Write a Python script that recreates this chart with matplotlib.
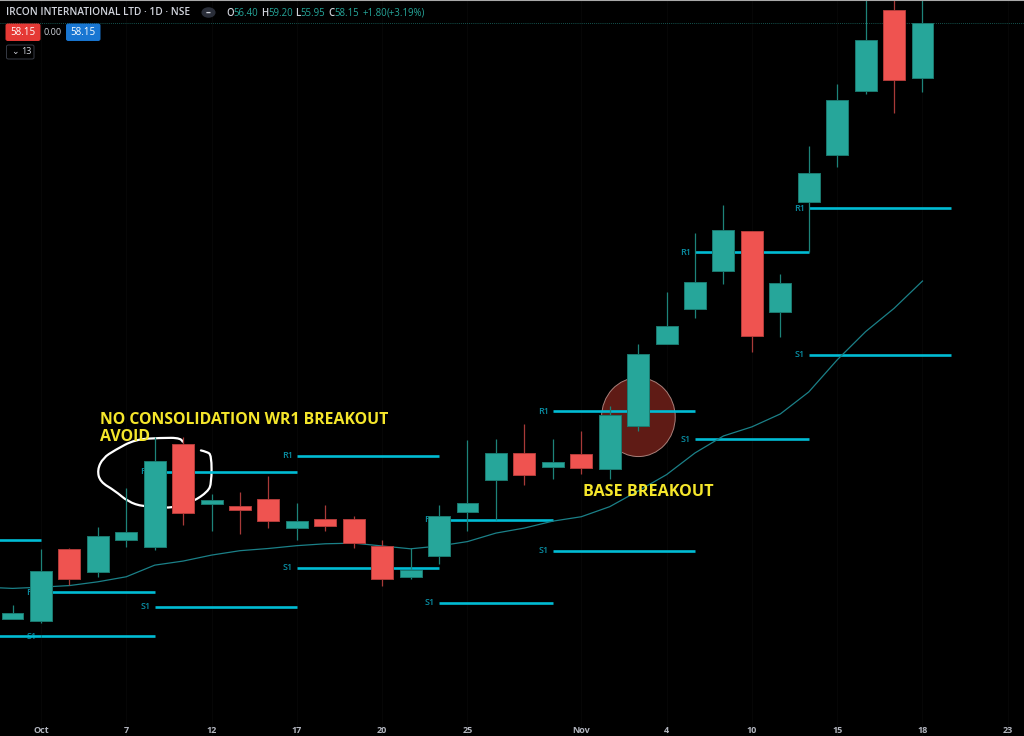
import matplotlib

matplotlib.use("Agg")
import matplotlib.pyplot as plt
from matplotlib.patches import Ellipse, FancyBboxPatch, Circle, PathPatch
from matplotlib.path import Path
import numpy as np

## Chart values ##
opens = [39.19, 39.14, 41.41, 40.70, 41.70, 41.50, 44.77, 42.86, 42.78, 43.02, 42.10,
         42.37, 42.37, 41.52, 40.53, 41.20, 42.61, 43.61, 44.48, 44.02, 44.44, 43.97,
         45.33, 47.94, 49.05, 50.26, 51.54, 48.96, 52.47, 53.97, 56.00, 58.57, 56.40]
highs = [39.64, 41.42, 41.47, 42.12, 43.36, 44.98, 44.98, 43.17, 43.24, 43.74, 42.88,
         42.82, 42.47, 41.71, 41.45, 42.82, 44.89, 44.93, 45.40, 44.93, 45.19, 45.97,
         47.95, 49.61, 51.48, 52.37, 51.54, 50.17, 54.25, 56.22, 59.30, 59.40, 59.20]
lows = [39.19, 39.08, 40.28, 40.54, 41.50, 41.40, 42.20, 42.01, 41.90, 42.10, 41.70,
        42.01, 41.45, 40.25, 40.48, 40.95, 42.01, 42.35, 43.46, 43.66, 43.81, 43.66,
        45.17, 47.94, 48.76, 49.87, 47.70, 48.18, 50.86, 53.59, 55.91, 55.29, 55.95]
closes = [39.40, 40.71, 40.46, 41.83, 41.96, 44.23, 42.56, 42.98, 42.66, 42.31, 42.32,
          42.16, 41.60, 40.46, 40.76, 42.46, 42.88, 44.48, 43.77, 44.19, 44.01, 45.69,
          47.62, 48.52, 49.93, 51.58, 48.19, 49.88, 53.40, 55.71, 57.62, 56.36, 58.15]
ma_values = [40.21, 40.17, 40.21, 40.26, 40.38, 40.54, 40.91, 41.04, 41.23, 41.37, 41.44,
             41.53, 41.59, 41.61, 41.52, 41.43, 41.52, 41.66, 41.93, 42.09, 42.31, 42.45,
             42.77, 43.27, 43.79, 44.48, 45.02, 45.31, 45.72, 46.42, 47.44, 48.34, 49.08,
             49.95]

# weekly pivot periods, in bar numbers
pivot_start = [-2, 1, 5, 10, 15, 19, 24, 28]
pivot_end = [1, 5, 10, 15, 19, 24, 28, 33]
pivot_r1 = [41.72, 40.04, 43.88, 44.39, 42.36, 45.81, 50.86, 52.27]
pivot_s1 = [38.64, 38.64, 39.59, 40.83, 39.72, 41.37, 44.92, 47.60]

tick_bars = [1, 4, 7, 10, 13, 16, 20, 23, 26, 29, 32, 35]
tick_labels = ["Oct", "7", "12", "17", "20", "25", "Nov", "4", "10", "15", "18", "23"]

# hand drawn loop around the WR1 candles
scribble_x = [5.98, 5.95, 5.2, 4.31, 3.60, 3.18, 2.98, 3.08, 3.60, 4.06, 4.59, 5.64, 6.35,
              6.87, 7.00, 7.00, 6.83, 6.42]
scribble_y = [44.84, 44.96, 44.96, 44.91, 44.57, 44.32, 43.94, 43.56, 43.28, 42.93, 42.77,
              42.72, 42.93, 43.25, 43.52, 44.41, 44.52, 44.60]

GREEN = "#26a69a"
RED = "#ef5350"
CYAN = "#00bcd4"
TEXT = "#d1d4dc"
YELLOW = "#f5e62b"

plt.rcParams["font.family"] = ["Open Sans", "DejaVu Sans"]

fig = plt.figure(figsize=(10.24, 7.36), dpi=100, facecolor="black")
ax = fig.add_axes([0, 0, 1, 1], facecolor="black")
ax.set_xlim(-0.44, 35.57)
ax.set_ylim(35.474, 58.891)
for spine in ax.spines.values():
    spine.set_visible(False)

ax.set_xticks(tick_bars, tick_labels)
ax.set_yticks([])
ax.tick_params(axis="x", length=0, pad=-7, labelsize=6.5, labelcolor="#b2b5be")
for label in ax.get_xticklabels():
    label.set_fontweight("bold")
ax.set_axisbelow(True)
ax.grid(True, axis="x", color="#070707", lw=0.7)

opens = np.array(opens)
closes = np.array(closes)
bars = np.arange(len(opens))
up = closes >= opens

## Drawings below the price ##
ax.add_patch(Ellipse((22.01, 45.62), 2.59, 2.51, facecolor="#5f1b15", edgecolor="#a9807a",
                     lw=0.7, zorder=1))

# smooth the loop, points act as quadratic control points
ctrl = np.column_stack([scribble_x, scribble_y])
verts = [ctrl[0]]
codes = [Path.MOVETO]
for a, b in zip(ctrl[1:-1], ctrl[2:]):
    verts += [a, (a + b) / 2]
    codes += [Path.CURVE3, Path.CURVE3]
ax.add_patch(PathPatch(Path(verts, codes), facecolor="none", edgecolor="white", lw=1.6,
                       capstyle="round", zorder=2))

## Pivots ##
for start, end, r1, s1 in zip(pivot_start, pivot_end, pivot_r1, pivot_s1):
    for level, name in ((r1, "R1"), (s1, "S1")):
        ax.plot([start, end], [level, level], color=CYAN, lw=1.9, solid_capstyle="butt", zorder=3)
        ax.annotate(name, (start, level), xytext=(-3, 0), textcoords="offset points",
                    ha="right", va="center", fontsize=6.5, color="#0a8ea3", zorder=2.5,
                    fontweight="semibold", annotation_clip=True)

ax.plot(np.arange(-1, len(ma_values) - 1), ma_values, color="#1b8088", lw=0.9, zorder=4)

## Candles ##
ax.vlines(bars[up], np.array(lows)[up], np.array(highs)[up], color="#1d8379", lw=0.9, zorder=5)
ax.vlines(bars[~up], np.array(lows)[~up], np.array(highs)[~up], color="#a83a38", lw=0.9, zorder=5)
ax.bar(bars[up], (closes - opens)[up], bottom=opens[up], width=0.77, color=GREEN,
       edgecolor="#1b7a70", lw=0.7, zorder=6)
ax.bar(bars[~up], (closes - opens)[~up], bottom=opens[~up], width=0.77, color=RED,
       edgecolor="#b23c3a", lw=0.7, zorder=6)

## Notes ##
ax.text(3.08, 45.53, "NO CONSOLIDATION WR1 BREAKOUT", color=YELLOW, fontsize=11.4,
        fontweight="bold", va="center", zorder=7)
ax.text(3.08, 44.98, "AVOID", color=YELLOW, fontsize=11.4, fontweight="bold",
        va="center", zorder=7)
ax.text(20.06, 43.25, "BASE BREAKOUT", color=YELLOW, fontsize=11.6, fontweight="bold",
        va="center", zorder=7)


## Header ##
def px(x, y):
    return x / 1024, 1 - y / 736


def header_text(x, y, text, color=TEXT, size=7.5, weight="normal", ha="left"):
    fig.text(*px(x, y), text, color=color, fontsize=size, fontweight=weight, ha=ha, va="center",
             zorder=10)


def badge(x0, y0, x1, y1, face, edge=None):
    fig.add_artist(FancyBboxPatch(px(x0, y1), (x1 - x0) / 1024, (y1 - y0) / 736,
                                  boxstyle="round,pad=0,rounding_size=0.002",
                                  transform=fig.transFigure, facecolor=face,
                                  edgecolor=edge or face, lw=0.7, zorder=9))


fig.add_artist(plt.Line2D([0, 1], [0.9995, 0.9995], color="#a9a9a9", lw=1.5, zorder=9))
ax.axhline(58.15, color="#1c6f68", lw=0.6, ls=(0, (1, 1.5)), zorder=4)

header_text(6, 12.5, "IRCON INTERNATIONAL LTD · 1D · NSE", size=7.3, weight="semibold")
fig.add_artist(Circle(px(208.5, 12.5), 0.0062, transform=fig.transFigure, color="#2a2e39", zorder=9))
header_text(208.5, 12.5, "–", color=TEXT, size=7, weight="bold", ha="center")

ohlc_parts = [(226, "O", TEXT), (233.5, "56.40", GREEN), (261, "H", TEXT), (268, "59.20", GREEN),
              (295, "L", TEXT), (300.5, "55.95", GREEN), (328, "C", TEXT), (334.5, "58.15", GREEN),
              (363, "+1.80", GREEN), (387, "(+3.19%)", GREEN)]
for x, part, color in ohlc_parts:
    header_text(x, 13, part, color=color, size=6.9, weight="semibold" if color == TEXT else "normal")

badge(6, 24, 40, 40.5, "#e53935")
header_text(23, 32.5, "58.15", color="white", size=7, ha="center")
header_text(53, 32.5, "0.00", color=TEXT, size=6.5, ha="center")
badge(66.5, 24, 100, 40.5, "#1976d2")
header_text(83, 32.5, "58.15", color="white", size=7, ha="center")
badge(6.5, 45, 34, 59, "black", "#363a45")
header_text(11, 52, "⌄", size=6.5)
header_text(21, 52, "13", size=6.5)

fig.savefig("out.png", dpi=100, facecolor="black")
